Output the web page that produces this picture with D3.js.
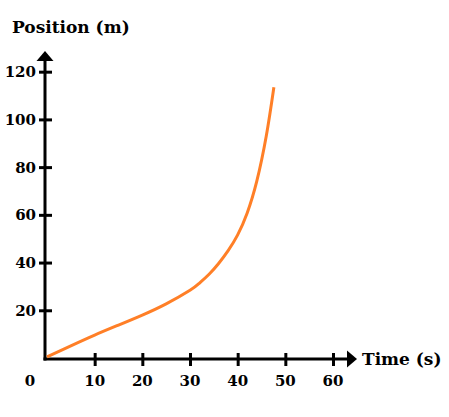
<!DOCTYPE html>
<html>
<head>
<meta charset="utf-8">
<script src="https://cdn.jsdelivr.net/npm/d3@7"></script>
<style>
body { margin: 0; background: #fff; }
text { font-family: "DejaVu Serif", serif; font-weight: bold; fill: #000; }
</style>
</head>
<body>
<svg width="449" height="417"></svg>
<script>
var times = [0, 5, 10, 15, 20, 25, 30, 32, 34, 36, 38, 40, 42, 44, 46, 47.6];
var positions = [0.5, 5.1, 9.6, 13.8, 18, 22.7, 28.4, 31.4, 35.1, 39.6, 45, 51.6, 60.8, 74, 93, 113.5];
var xTicks = [10, 20, 30, 40, 50, 60];
var yTicks = [20, 40, 60, 80, 100, 120];

var svg = d3.select('svg');
var x = d3.scaleLinear().domain([0, 60]).range([47, 333]);
var y = d3.scaleLinear().domain([0, 100]).range([358, 119.4]);
var ox = 45, oy = 359;

// axis lines
svg.append('line').attr('x1', ox).attr('y1', oy + 1.5).attr('x2', ox).attr('y2', 58)
	.attr('stroke', '#000').attr('stroke-width', 3);
svg.append('line').attr('x1', ox - 1.5).attr('y1', oy).attr('x2', 350).attr('y2', oy)
	.attr('stroke', '#000').attr('stroke-width', 3);
svg.append('path').attr('d', 'M' + ox + ',51 L' + (ox - 8.5) + ',61 L' + (ox + 8.5) + ',61 Z').attr('fill', '#000');
svg.append('path').attr('d', 'M357,' + oy + ' L347,' + (oy - 8.5) + ' L347,' + (oy + 8.5) + ' Z').attr('fill', '#000');

// ticks
var xAxis = svg.append('g').attr('transform', 'translate(0,' + (oy - 6) + ')')
	.call(d3.axisBottom(x).tickValues(xTicks).tickSize(13).tickFormat(''));
xAxis.select('.domain').remove();
xAxis.selectAll('line').attr('stroke', '#000').attr('stroke-width', 3);

var yAxis = svg.append('g').attr('transform', 'translate(' + (ox + 7) + ',0)')
	.call(d3.axisLeft(y).tickValues(yTicks).tickSize(13).tickFormat(''));
yAxis.select('.domain').remove();
yAxis.selectAll('line').attr('stroke', '#000').attr('stroke-width', 3);

// tick labels
svg.selectAll('text.xl').data([0].concat(xTicks)).enter().append('text')
	.attr('class', 'xl')
	.attr('x', function(d){ return d === 0 ? 30 : x(d); })
	.attr('y', 386)
	.attr('text-anchor', 'middle')
	.style('font-size', '15px')
	.text(function(d){ return d; });

svg.selectAll('text.yl').data(yTicks).enter().append('text')
	.attr('class', 'yl')
	.attr('x', 36)
	.attr('y', function(d){ return y(d) + 5.5; })
	.attr('text-anchor', 'end')
	.style('font-size', '15px')
	.text(function(d){ return d; });

// titles
svg.append('text').attr('x', 12).attr('y', 33).style('font-size', '17px').text('Position (m)');
svg.append('text').attr('x', 362).attr('y', 365).style('font-size', '17px').text('Time (s)');

// curve
var line = d3.line()
	.x(function(d, i){ return x(times[i]); })
	.y(function(d){ return y(d); })
	.curve(d3.curveNatural);
svg.append('path').datum(positions)
	.attr('d', line)
	.attr('fill', 'none')
	.attr('stroke', '#ff7f27')
	.attr('stroke-width', 3);
</script>
</body>
</html>
